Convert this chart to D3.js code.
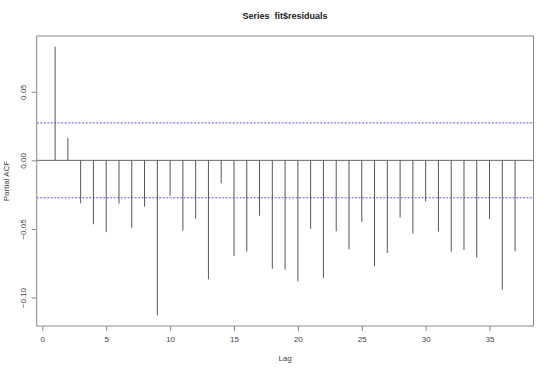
<!DOCTYPE html>
<html><head><meta charset="utf-8">
<script src="https://cdn.jsdelivr.net/npm/d3@7"></script>
<style>body{margin:0;background:#fff}svg{display:block}text{font-family:"Liberation Sans",Arial,sans-serif}</style>
</head><body><svg id="c" width="554" height="372"></svg>
<script>
const lags = d3.range(1, 38);
const pacf = [0.0828, 0.0163, -0.0313, -0.0466, -0.0524, -0.0316, -0.0493, -0.0337, -0.1129, -0.0257,
  -0.0512, -0.0425, -0.0867, -0.0167, -0.0697, -0.0665, -0.0403, -0.0791, -0.0796, -0.0883,
  -0.0498, -0.0857, -0.0517, -0.0648, -0.0449, -0.0772, -0.0675, -0.0417, -0.0534, -0.0299,
  -0.0519, -0.0665, -0.0653, -0.0709, -0.0427, -0.0942, -0.0663];
const ci = 0.0273;
const xTicks = [0, 5, 10, 15, 20, 25, 30, 35];
const yTicks = [-0.10, -0.05, 0.00, 0.05];
const title = "Series  fit$residuals";

const svg = d3.select("#c");
const L = 36.7, R = 533.5, T = 36, B = 326;
const xmin = d3.min(lags), xmax = d3.max(lags);
const xr = xmax - xmin;
const x = d3.scaleLinear().domain([xmin - 0.04 * xr, xmax + 0.04 * xr]).range([L, R]);
const ylo = Math.min(d3.min(pacf), -ci), yhi = Math.max(d3.max(pacf), ci);
const yr = yhi - ylo;
const y = d3.scaleLinear().domain([ylo - 0.04 * yr, yhi + 0.04 * yr]).range([B, T]);

// zero line
svg.append("line").attr("x1", L).attr("x2", R).attr("y1", y(0)).attr("y2", y(0))
  .attr("stroke", "#666").attr("stroke-width", 1);

// CI lines
[ci, -ci].forEach(v => svg.append("line").attr("x1", L).attr("x2", R)
  .attr("y1", y(v)).attr("y2", y(v)).attr("stroke", "#5555ff").attr("stroke-width", 1)
  .attr("stroke-dasharray", "2,1.5"));

// bars
svg.append("g").selectAll("line").data(lags).join("line")
  .attr("x1", d => x(d)).attr("x2", d => x(d))
  .attr("y1", y(0)).attr("y2", (d, i) => y(pacf[i]))
  .attr("stroke", "#555").attr("stroke-width", 1);

// box
svg.append("rect").attr("x", L).attr("y", T).attr("width", R - L).attr("height", B - T)
  .attr("fill", "none").attr("stroke", "#888").attr("stroke-width", 1);

// x axis
const xa = svg.append("g").attr("transform", `translate(0,${B})`)
  .call(d3.axisBottom(x).tickValues(xTicks).tickSize(5).tickPadding(5).tickFormat(d3.format("d")));
xa.select(".domain").remove();
xa.selectAll("line").attr("stroke", "#888");
xa.selectAll("text").attr("font-size", 8).attr("fill", "#444");

// y axis
const ya = svg.append("g").attr("transform", `translate(${L},0)`)
  .call(d3.axisLeft(y).tickValues(yTicks).tickSize(5).tickFormat(d3.format(".2f")));
ya.select(".domain").remove();
ya.selectAll("line").attr("stroke", "#888");
ya.selectAll("text").attr("font-size", 8).attr("fill", "#444")
  .attr("text-anchor", "middle").attr("x", 0).attr("dy", null)
  .attr("transform", "translate(-13,0) rotate(-90)").attr("dy", "0.32em");

// labels
svg.append("text").attr("x", (L + R) / 2).attr("y", 19).attr("text-anchor", "middle")
  .attr("font-size", 9).attr("font-weight", "bold").attr("fill", "#222").attr("xml:space", "preserve")
  .style("white-space", "pre").text(title);
svg.append("text").attr("x", (L + R) / 2).attr("y", 361).attr("text-anchor", "middle")
  .attr("font-size", 8).attr("fill", "#444").text("Lag");
svg.append("text").attr("transform", `translate(9,${(T + B) / 2}) rotate(-90)`).attr("text-anchor", "middle")
  .attr("font-size", 8).attr("fill", "#444").text("Partial ACF");
</script></body></html>
